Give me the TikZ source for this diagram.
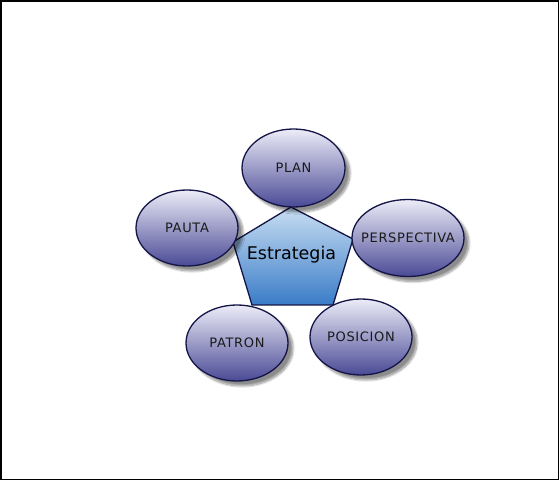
\documentclass[tikz,border=0pt]{standalone}
\usepackage{fontspec}
\setmainfont{DejaVu Sans}
\usetikzlibrary{shapes.geometric,shadows.blur}
\definecolor{ellTop}{HTML}{ECECF8}
\definecolor{ellMid}{HTML}{9C9CCE}
\definecolor{ellBot}{HTML}{4A4A96}
\definecolor{edge}{HTML}{141447}
\definecolor{penTop}{HTML}{C8DEF2}
\definecolor{penBot}{HTML}{3A7CC8}
\definecolor{txt}{HTML}{1A1A1A}
\newcommand{\bubtext}[1]{\makebox[0pt]{#1}}
\tikzset{
  bubble/.style={ellipse, draw=edge, line width=1.3pt,
    top color=ellTop, middle color=ellMid, bottom color=ellBot,
    minimum width=102pt, minimum height=76pt, inner sep=0pt,
    text=txt, font=\fontsize{13}{15}\selectfont\addfontfeatures{LetterSpace=5},
    blur shadow={shadow xshift=5pt, shadow yshift=-5pt, shadow blur steps=10, shadow opacity=45}},
  pent/.style={draw=edge, line width=1.3pt, top color=penTop, bottom color=penBot},
  frame/.style={draw=black, line width=1.5pt}
}
\begin{document}
\begin{tikzpicture}[x=1pt,y=-1pt]
\useasboundingbox (0,0) rectangle (560,481);
\draw[frame] (1,1) rectangle (558.5,479.5);
% pentagon
\coordinate (pT) at (291,207);
\coordinate (pR) at (353,239);
\coordinate (pBR) at (333,305);
\coordinate (pBL) at (252,305);
\coordinate (pL) at (233,242);
\draw[pent] (pT) -- (pR) -- (pBR) -- (pBL) -- (pL) -- cycle;
\node[anchor=base, text=black, font=\fontsize{17.5}{20}\selectfont] (est) at (291.5,260) {Estrategia};
% bubbles
\node[bubble, minimum width=103pt, minimum height=78pt] (plan) at (293.5,168) {\bubtext{PLAN}};
\node[bubble] (pauta) at (187,228) {\bubtext{PAUTA}};
\node[bubble, minimum width=112pt, minimum height=77pt] (persp) at (408,238) {\bubtext{PERSPECTIVA}};
\node[bubble] (patron) at (237,343) {\bubtext{PATRON}};
\node[bubble] (posic) at (361,337) {\bubtext{POSICION}};
\end{tikzpicture}
\end{document}
